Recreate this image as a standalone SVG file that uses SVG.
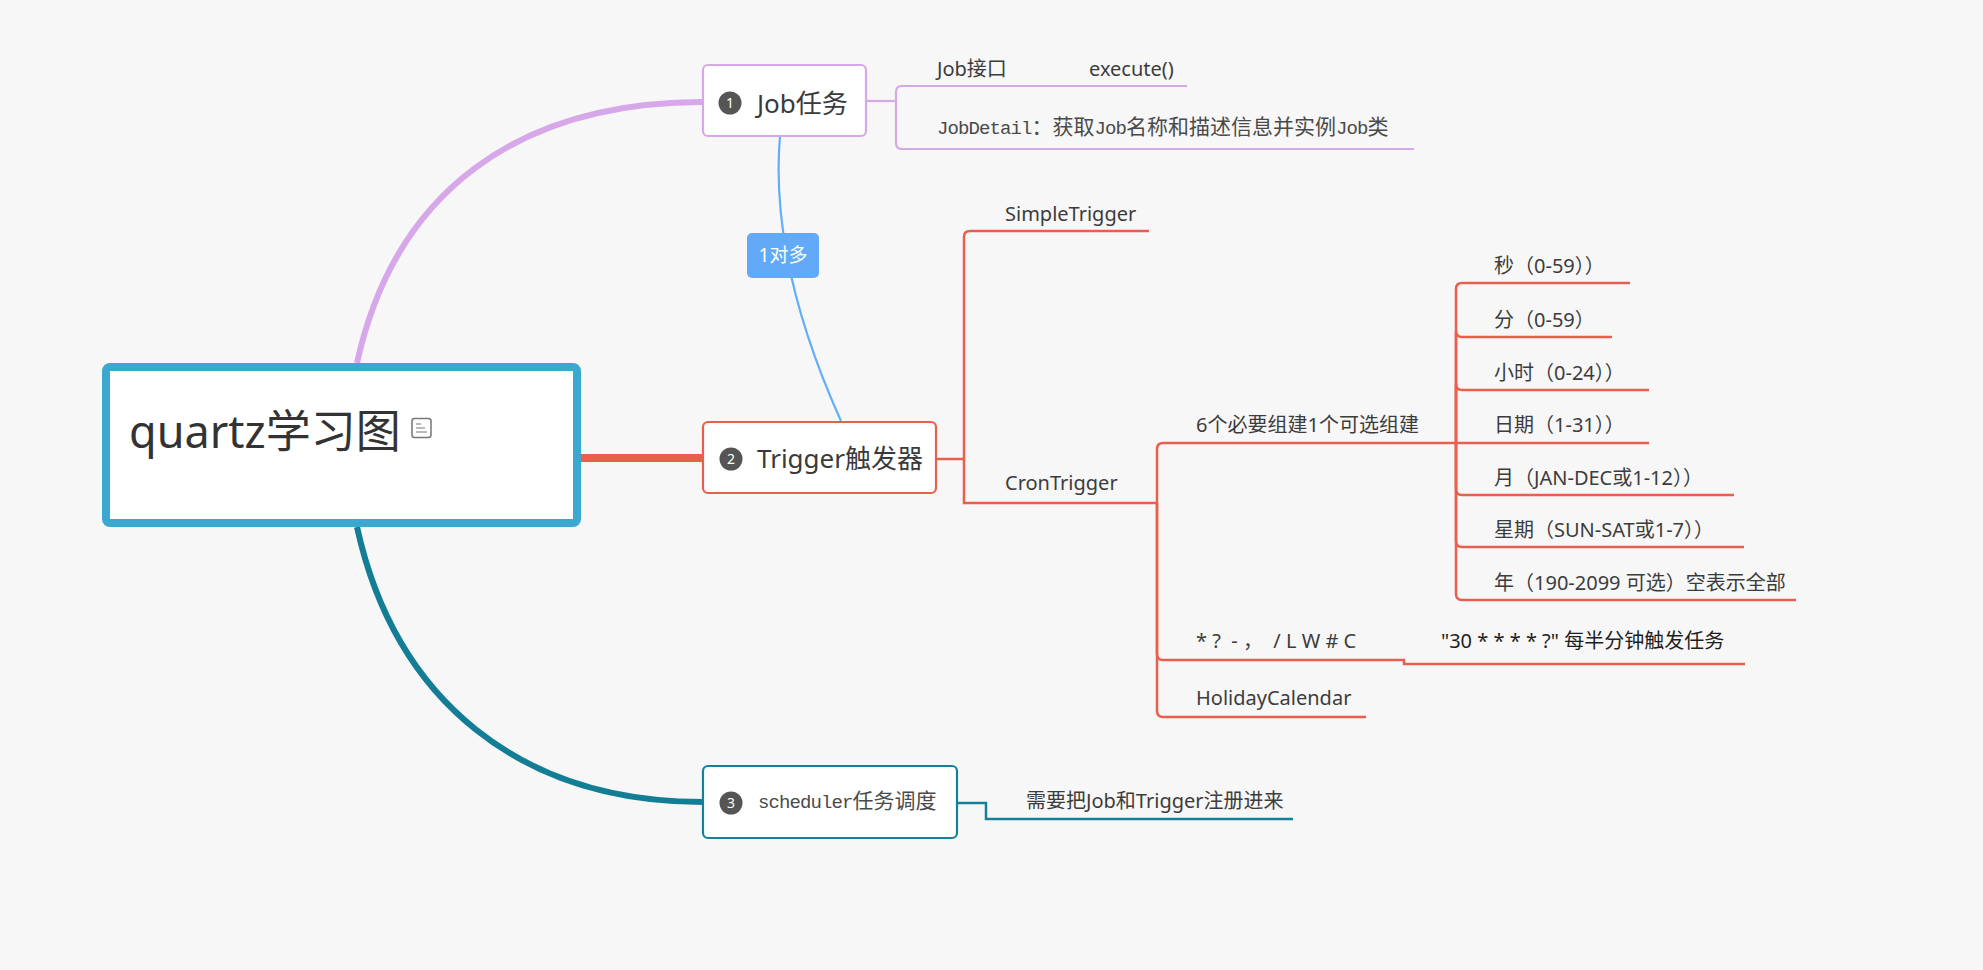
<svg xmlns="http://www.w3.org/2000/svg" width="1983" height="970" viewBox="0 0 1983 970">
<style>
.bg{fill:#f7f7f7}
.lbl{font-family:"Noto Sans","Noto Sans CJK SC",sans-serif;font-size:20px;fill:#3c3c3c}
.main{font-family:"Noto Sans","Noto Sans CJK SC",sans-serif;font-size:26px;fill:#3a3a3a}
.mono{font-family:"Liberation Mono","Noto Sans CJK SC",monospace;fill:#4a4a4a}
.lat{font-size:19px;letter-spacing:-0.9px}
.cjk{font-size:21px;letter-spacing:0}
.num{font-family:"Noto Sans",sans-serif;font-size:14px;fill:#ffffff;text-anchor:middle}
.dot{fill:#555555}
.pur{fill:none;stroke:#d6a7e9;stroke-width:2.2}
.red{fill:none;stroke:#e8604c;stroke-width:2.5}
.teal{fill:none;stroke:#16809a;stroke-width:2.5}
.box{fill:#ffffff}
</style>
<rect class="bg" x="0" y="0" width="1983" height="970"/>
<g id="connectors">
  <path d="M357,363 C395,190 520,102 703,102" fill="none" stroke="#d6a7e9" stroke-width="6"/>
  <path d="M357,527 C395,700 520,802 703,802" fill="none" stroke="#137d96" stroke-width="6"/>
  <path d="M581,458 H703" fill="none" stroke="#e8604c" stroke-width="8"/>
  <path d="M780,136 C772,230 800,330 841,421" fill="none" stroke="#64aef8" stroke-width="2.2"/>
  <path class="pur" d="M866,101 H896"/>
  <path class="pur" d="M896,101 V92 Q896,86 902,86 H1187"/>
  <path class="pur" d="M896,101 V143 Q896,149 902,149 H1414"/>
  <path class="red" d="M936,459 H964"/>
  <path class="red" d="M964,459 V237 Q964,231 970,231 H1149"/>
  <path class="red" d="M964,459 V503 H1157"/>
  <path class="red" d="M1157,503 V449 Q1157,443 1163,443 H1456"/>
  <path class="red" d="M1157,503 V654 Q1157,660 1163,660 H1404 V664 H1745"/>
  <path class="red" d="M1157,503 V711 Q1157,717 1163,717 H1366"/>
  <path class="red" d="M1456,443 V289 Q1456,283 1462,283 H1630"/>
  <path class="red" d="M1456,443 V331 Q1456,337 1462,337 H1612"/>
  <path class="red" d="M1456,443 V384 Q1456,390 1462,390 H1649"/>
  <path class="red" d="M1456,443 H1649"/>
  <path class="red" d="M1456,443 V489 Q1456,495 1462,495 H1734"/>
  <path class="red" d="M1456,443 V541 Q1456,547 1462,547 H1744"/>
  <path class="red" d="M1456,443 V594 Q1456,600 1462,600 H1796"/>
  <path class="teal" d="M957,803 H986 V819 H1293"/>
</g>
<g id="root">
  <rect x="106" y="367" width="471" height="156" rx="4" fill="#ffffff" stroke="#3aa8cf" stroke-width="8"/>
  <text x="129" y="448" font-family="Noto Sans, Noto Sans CJK SC, sans-serif" font-size="45" fill="#333333">quartz学习图</text>
  <rect x="412" y="418.5" width="19" height="19" rx="2.5" fill="#ffffff" stroke="#777777" stroke-width="1.5"/>
  <path d="M416,424 H421 M416,428 H425 M416,432 H427" stroke="#777777" stroke-width="1.2"/>
</g>
<g id="job">
  <rect class="box" x="703" y="65" width="163" height="71" rx="5" stroke="#d6a7e9" stroke-width="2.2"/>
  <circle class="dot" cx="730" cy="103" r="11.5"/>
  <text class="num" x="730" y="108">1</text>
  <text class="main" x="757" y="113">Job任务</text>
</g>
<g id="job-interface"><text class="lbl" x="937" y="76">Job接口</text></g>
<g id="execute"><text class="lbl" x="1089" y="76">execute()</text></g>
<g id="jobdetail"><text class="mono" x="937" y="134"><tspan class="lat">JobDetail</tspan><tspan class="cjk">：获取</tspan><tspan class="lat">Job</tspan><tspan class="cjk">名称和描述信息并实例</tspan><tspan class="lat">Job</tspan><tspan class="cjk">类</tspan></text></g>
<g id="one-to-many">
  <rect x="747" y="233" width="72" height="45" rx="5" fill="#62aaf7"/>
  <text x="783" y="262" text-anchor="middle" font-family="Noto Sans, Noto Sans CJK SC, sans-serif" font-size="19" fill="#ffffff">1对多</text>
</g>
<g id="trigger">
  <rect class="box" x="703" y="422" width="233" height="71" rx="5" stroke="#e8604c" stroke-width="2.2"/>
  <circle class="dot" cx="731" cy="459" r="11.5"/>
  <text class="num" x="731" y="464">2</text>
  <text class="main" x="757" y="468">Trigger触发器</text>
</g>
<g id="simple-trigger"><text class="lbl" x="1005" y="221">SimpleTrigger</text></g>
<g id="cron-trigger"><text class="lbl" x="1005" y="490">CronTrigger</text></g>
<g id="cron-components"><text class="lbl" x="1196" y="432">6个必要组建1个可选组建</text></g>
<g id="field-sec"><text class="lbl" x="1494" y="273">秒（0-59））</text></g>
<g id="field-min"><text class="lbl" x="1494" y="327">分（0-59）</text></g>
<g id="field-hour"><text class="lbl" x="1494" y="380">小时（0-24））</text></g>
<g id="field-day"><text class="lbl" x="1494" y="432">日期（1-31））</text></g>
<g id="field-month"><text class="lbl" x="1494" y="485">月（JAN-DEC或1-12））</text></g>
<g id="field-week"><text class="lbl" x="1494" y="537">星期（SUN-SAT或1-7））</text></g>
<g id="field-year"><text class="lbl" x="1494" y="590">年（190-2099 可选）空表示全部</text></g>
<g id="wildcards"><text class="lbl" x="1196" y="648" xml:space="preserve">* ?  - ，  / L W # C</text></g>
<g id="example"><text class="lbl" x="1441" y="648" style="fill:#1e1e1e">"30 * * * * ?" 每半分钟触发任务</text></g>
<g id="holiday"><text class="lbl" x="1196" y="705">HolidayCalendar</text></g>
<g id="scheduler">
  <rect class="box" x="703" y="766" width="254" height="72" rx="5" stroke="#16809a" stroke-width="2.2"/>
  <circle class="dot" cx="731" cy="803" r="11.5"/>
  <text class="num" x="731" y="808">3</text>
  <text class="mono" x="758" y="808"><tspan class="lat">scheduler</tspan><tspan class="cjk">任务调度</tspan></text>
</g>
<g id="register"><text class="lbl" x="1026" y="808">需要把Job和Trigger注册进来</text></g>
</svg>
